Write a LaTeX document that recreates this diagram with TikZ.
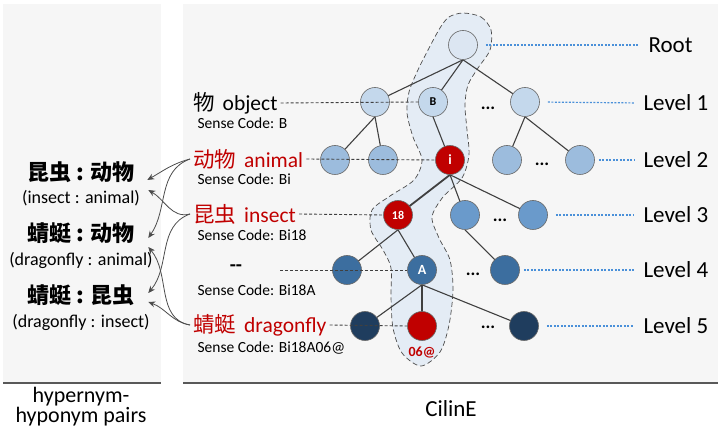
\documentclass[tikz,border=0pt]{standalone}
\usepackage{fontspec}
\setmainfont{Carlito}
\newfontfamily\cjk{Noto Sans CJK SC}
\usepackage{xcolor}
\usepackage{tikz}
\usetikzlibrary{arrows.meta,backgrounds}

\definecolor{panelbg}{HTML}{F6F6F6}
\definecolor{pathbg}{HTML}{E4ECF5}
\definecolor{lvroot}{HTML}{DCE6F2}
\definecolor{lvone}{HTML}{C4D8EC}
\definecolor{lvtwo}{HTML}{9CBCDD}
\definecolor{lvthree}{HTML}{6A9ACB}
\definecolor{lvfour}{HTML}{3C6E9F}
\definecolor{lvfive}{HTML}{1F3D5E}
\definecolor{hotred}{HTML}{C00000}
\definecolor{lvline}{HTML}{4A90D9}

\begin{document}
\begin{tikzpicture}[x=1pt,y=1pt,
  tn/.style={circle,draw=black!60,line width=0.6pt,minimum size=29pt,inner sep=0pt,
    font=\fontsize{12}{12}\selectfont\bfseries},
  hot/.style={tn,fill=hotred,text=white},
  edge/.style={draw=black!75,line width=1.1pt},
  guide/.style={draw=black!75,line width=0.9pt,dash pattern=on 3pt off 2pt},
  lvguide/.style={draw=lvline,line width=1.2pt,dash pattern=on 2pt off 1.5pt,
    shorten <=8pt,shorten >=6pt},
  lvtext/.style={anchor=west,font=\fontsize{23}{26}\selectfont},
  word/.style={anchor=west,inner sep=3pt,font=\fontsize{21.5}{25}\selectfont},
  code/.style={anchor=west,font=\fontsize{15.5}{18}\selectfont},
  pairtext/.style={font=\fontsize{22}{26}\selectfont\cjk\bfseries},
  glosstext/.style={font=\fontsize{18}{22}\selectfont},
  dotstext/.style={font=\fontsize{18}{20}\selectfont\bfseries},
  pairarrow/.style={draw=black!70,line width=0.8pt,-{Stealth[length=7pt,width=6pt]}}
]
\useasboundingbox (0,0) rectangle (721,-430);

% tree nodes
\node[tn,fill=lvroot] (root) at (463,-45) {};

\node[tn,fill=lvone] (l1a) at (375,-102) {};
\node[tn,fill=lvone] (B) at (433,-102) {B};
\node[tn,fill=lvone] (l1c) at (525,-102) {};

\node[tn,fill=lvtwo] (l2a) at (335,-160) {};
\node[tn,fill=lvtwo] (l2b) at (383,-160) {};
\node[hot,font=\fontsize{14}{14}\selectfont\bfseries] (i) at (450,-160) {i};
\node[tn,fill=lvtwo] (l2d) at (507,-160) {};
\node[tn,fill=lvtwo] (l2e) at (580,-160) {};

\node[hot] (n18) at (398,-215) {18};
\node[tn,fill=lvthree] (l3b) at (465,-215) {};
\node[tn,fill=lvthree] (l3c) at (533,-215) {};

\node[tn,fill=lvfour] (l4a) at (347,-270) {};
\node[tn,fill=lvfour,text=white,font=\fontsize{14}{14}\selectfont\bfseries] (A) at (422,-270) {A};
\node[tn,fill=lvfour] (l4c) at (505,-270) {};

\node[tn,fill=lvfive] (l5a) at (365,-326) {};
\node[hot] (l5b) at (422,-326) {};
\node[tn,fill=lvfive] (l5c) at (524,-326) {};

\node[text=hotred,font=\fontsize{14}{14}\selectfont\bfseries] (leaf) at (422,-353) {06@};

% dots
\node[dotstext] (d1) at (488,-108) {...};
\node[dotstext] (d2) at (542,-164) {...};
\node[dotstext] (d3) at (500,-220) {...};
\node[dotstext] (d4) at (473,-274) {...};
\node[dotstext] (d5) at (488,-327) {...};

% background: panels, path region, edges
\begin{scope}[on background layer]
\fill[panelbg] (3,-4) rectangle (161,-383);
\fill[panelbg] (183,-4) rectangle (718,-383);
\draw[black!65,line width=1.5pt] (3,-383)--(161,-383);
\draw[black!65,line width=1.5pt] (183,-383)--(718,-383);

\draw[fill=pathbg,draw=black!70,line width=0.7pt,dash pattern=on 5pt off 3pt]
  plot[smooth cycle] coordinates {(463,-13) (481,-17) (491,-30) (490,-50) (478,-68)
  (468,-85) (465,-105) (467,-130) (469,-155) (462,-178) (443,-197) (432,-217)
  (439,-238) (450,-260) (453,-290) (449,-325) (440,-352) (421,-366) (402,-353)
  (393,-328) (391,-297) (391,-268) (383,-250) (371,-230) (372,-210) (390,-196)
  (414,-180) (422,-160) (413,-137) (407,-113) (409,-92) (417,-72) (428,-50)
  (440,-28) (449,-17)};

\foreach \p/\c in {root/l1a,root/B,root/l1c,l1a/l2a,l1a/l2b,B/i,l1c/l2d,l1c/l2e,
  i/l3b,i/l3c,n18/l4a,n18/A,l3b/l4c,A/l5a,A/l5b,A/l5c}{
  \draw[edge] (\p.south)--(\c.center);
}
\draw[edge,line width=1.8pt] (i.south)--(n18.center);
\end{scope}

% word labels
\node[word] (objlbl) at (190,-103) {{\cjk 物}\hspace{8pt}object};
\node[code] (codeB) at (194,-123) {Sense Code: B};
\node[word,text=hotred] (anilbl) at (190,-159) {{\cjk 动物}\hspace{8pt}animal};
\node[code] (codeBi) at (194,-179) {Sense Code: Bi};
\node[word,text=hotred] (inslbl) at (190,-214) {{\cjk 昆虫}\hspace{8pt}insect};
\node[code] (codeBii) at (194,-235) {Sense Code: Bi18};
\node[font=\fontsize{20}{24}\selectfont\bfseries] (sublbl) at (236,-268) {-{}-};
\coordinate (subend) at (280,-270);
\node[code] (codeBiii) at (194,-290) {Sense Code: Bi18A};
\node[word,text=hotred] (dralbl) at (190,-325) {{\cjk 蜻蜓}\hspace{8pt}dragonfly};
\node[code] (codeBiv) at (194,-348) {Sense Code: Bi18A06@};

\draw[guide] (objlbl.east)--(B.west);
\draw[guide] (anilbl.east)--(i.west);
\draw[guide] (inslbl.east)--(n18.west);
\draw[guide] (subend)--(A.west);
\draw[guide] (dralbl.east)--(l5b.west);

% level labels
\node[lvtext] (lv0) at (645,-45) {Root};
\node[lvtext] (lv1) at (640,-103) {Level 1};
\node[lvtext] (lv2) at (640,-160) {Level 2};
\node[lvtext] (lv3) at (640,-215) {Level 3};
\node[lvtext] (lv4) at (640,-270) {Level 4};
\node[lvtext] (lv5) at (640,-326) {Level 5};

\draw[lvguide] (root.east)--(lv0.west);
\draw[lvguide] (l1c.east)--(lv1.west);
\draw[lvguide,shorten <=4pt] (l2e.east)--(lv2.west);
\draw[lvguide] (l3c.east)--(lv3.west);
\draw[lvguide,shorten <=4pt] (l4c.east)--(lv4.west);
\draw[lvguide] (l5c.east)--(lv5.west);

% hypernym-hyponym pairs
\node[pairtext] (hyA) at (81,-172) {昆虫 : 动物};
\node[glosstext] (glA) at (81,-198) {(insect : animal)};
\node[pairtext] (hyB) at (81,-233) {蜻蜓 : 动物};
\node[glosstext] (glB) at (81,-260) {(dragonfly : animal)};
\node[pairtext] (hyC) at (81,-295) {蜻蜓 : 昆虫};
\node[glosstext] (glC) at (81,-322) {(dragonfly : insect)};

\draw[pairarrow] (anilbl.west) to[out=195,in=30] ([shift={(9,-8)}]hyA.east);
\draw[pairarrow] (anilbl.west) to[out=200,in=55] ([shift={(10,-5)}]hyB.east);
\draw[pairarrow] (inslbl.west) to[out=195,in=-30] ([shift={(10,-18)}]hyA.east);
\draw[pairarrow] (inslbl.west) to[out=200,in=50] ([shift={(10,2)}]hyC.east);
\draw[pairarrow] (dralbl.west) to[out=170,in=-50] ([shift={(10,-14)}]hyB.east);
\draw[pairarrow] (dralbl.west) to[out=170,in=-20] ([shift={(10,-7)}]hyC.east);

% panel titles
\node[align=center,font=\fontsize{22}{20}\selectfont] (lefttitle) at (81,-407) {hypernym-\\hyponym pairs};
\node[font=\fontsize{23}{26}\selectfont] (righttitle) at (451,-409) {CilinE};
\end{tikzpicture}
\end{document}
